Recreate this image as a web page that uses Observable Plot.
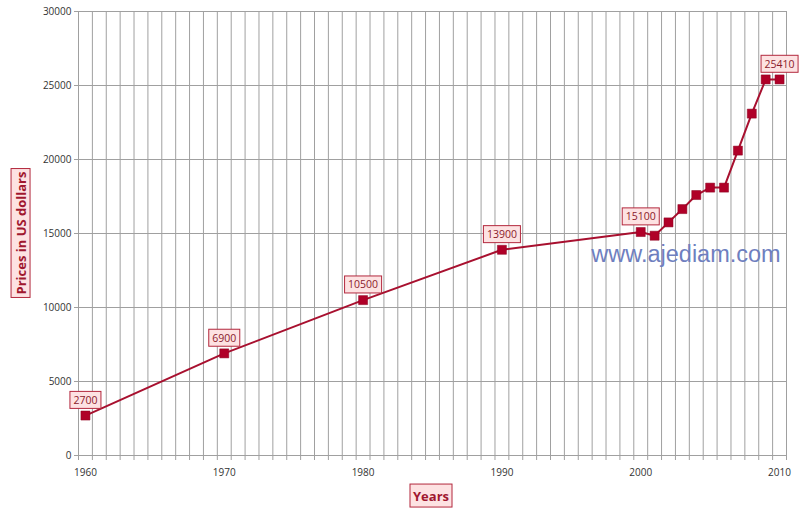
<!DOCTYPE html>
<html>
<head>
<meta charset="utf-8">
<script src="https://cdn.jsdelivr.net/npm/d3@7"></script>
<script src="https://cdn.jsdelivr.net/npm/@observablehq/plot@0.6"></script>
<style>
  html, body { margin: 0; padding: 0; background: #fff; }
  #chart { width: 800px; height: 510px; }
</style>
</head>
<body>
<div id="chart"></div>
<script>
const years = [1960, 1970, 1980, 1990, 2000, 2001, 2002, 2003, 2004, 2005, 2006, 2007, 2008, 2009, 2010];
const prices = [2700, 6900, 10500, 13900, 15100, 14850, 15750, 16650, 17600, 18100, 18100, 20600, 23100, 25410, 25410];
const labelYears = [1960, 1970, 1980, 1990, 2000, 2010];
const xTickLabels = [1960, 1970, 1980, 1990, 2000, 2010];
const yTicks = [0, 5000, 10000, 15000, 20000, 25000, 30000];
const firstYear = 1960, lastYear = 2010;

const data = years.map((y, i) => ({year: y, price: prices[i]}));
const labelData = data.filter(d => labelYears.includes(d.year));
const bandEdges = d3.range(firstYear - 0.5, lastYear + 1, 1);

const red = "#a8102f";
const gridColor = "#a0a0a0";
const font = "'Open Sans', 'DejaVu Sans', sans-serif";

const chart = Plot.plot({
  width: 800,
  height: 510,
  marginTop: 11,
  marginBottom: 55,
  marginLeft: 78,
  marginRight: 14,
  style: {fontFamily: font, fontSize: "10px", color: "#333", background: "#fff"},
  x: {domain: [firstYear - 0.5, lastYear + 0.5]},
  y: {domain: [0, 30000]},
  marks: [
    Plot.gridX(bandEdges, {stroke: gridColor, strokeOpacity: 1}),
    Plot.gridY(yTicks, {stroke: gridColor, strokeOpacity: 1}),
    Plot.axisX(bandEdges, {tickSize: 5, tickFormat: () => "", stroke: gridColor, label: null}),
    Plot.axisX(xTickLabels, {tickSize: 0, tickPadding: 13, tickFormat: d3.format("d"), label: null, fill: "#333"}),
    Plot.axisY(yTicks, {tickSize: 4, tickPadding: 3, tickFormat: d3.format("d"), stroke: gridColor, label: null, fill: "#333"}),
    Plot.line(data, {x: "year", y: "price", stroke: red, strokeWidth: 2}),
    Plot.dot(data, {x: "year", y: "price", symbol: "square", r: 5.1, fill: "#b00028", stroke: "#8a0020", strokeWidth: 0.5}),
    Plot.text(labelData, {x: "year", y: "price", text: d => String(d.price), dy: -15, fill: "#8b1a2b", fontSize: 10.5})
  ]
});

document.getElementById("chart").append(chart);

const svg = d3.select(chart);
const labelStrings = labelData.map(d => String(d.price));

// boxes behind data labels
Array.from(chart.querySelectorAll("text"))
  .filter(t => labelStrings.includes(t.textContent) && !/axis/.test(t.parentNode.getAttribute("aria-label") || ""))
  .forEach(t => {
    const bb = t.getBBox();
    const r = document.createElementNS("http://www.w3.org/2000/svg", "rect");
    r.setAttribute("x", bb.x - 3.5);
    r.setAttribute("y", bb.y - 1.5);
    r.setAttribute("width", bb.width + 7);
    r.setAttribute("height", bb.height + 3);
    r.setAttribute("fill", "#fde2e2");
    r.setAttribute("stroke", "#b3283d");
    r.setAttribute("stroke-width", "1");
    const tr = t.getAttribute("transform");
    if (tr) r.setAttribute("transform", tr);
    t.parentNode.insertBefore(r, t);
  });

// boxed axis titles
function boxedTitle(text, cx, cy, rotate, padX, padY) {
  const g = svg.append("g").attr("transform", `translate(${cx},${cy}) rotate(${rotate})`);
  const t = g.append("text")
    .attr("text-anchor", "middle").attr("dy", "0.35em")
    .attr("font-family", font).attr("font-size", 13).attr("font-weight", "bold")
    .attr("fill", "#a0172f").text(text);
  const bb = t.node().getBBox();
  g.insert("rect", "text")
    .attr("x", bb.x - padX).attr("y", bb.y - padY)
    .attr("width", bb.width + 2 * padX).attr("height", bb.height + 2 * padY)
    .attr("fill", "#fde2e2").attr("stroke", "#b3283d").attr("stroke-width", 1);
}
boxedTitle("Years", 431, 496, 0, 3, 2.5);
boxedTitle("Prices in US dollars", 21, 233, -90, 3, 0.5);

// watermark
svg.append("text")
  .attr("x", 686).attr("y", 262).attr("text-anchor", "middle")
  .attr("font-family", "'Liberation Sans', Arial, sans-serif").attr("font-size", 23.5)
  .attr("fill", "#6f7fbf").text("www.ajediam.com");
</script>
</body>
</html>
